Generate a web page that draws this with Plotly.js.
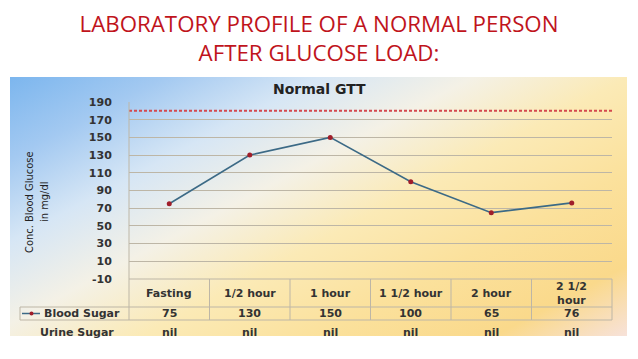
<!DOCTYPE html>
<html>
<head>
<meta charset="utf-8">
<script src="https://cdn.plot.ly/plotly-3.0.1.min.js"></script>
<style>
  html, body { margin: 0; padding: 0; background: #ffffff; }
  #wrap { position: relative; width: 638px; height: 359px; overflow: hidden; }
  #bg { position: absolute; left: 10px; top: 77px; width: 617px; height: 259px;
        background:
          linear-gradient(152deg, #7cb6ee 0%, #a3c9f1 14%, #d6e6f5 28%, #f4f1e6 42%, #fbeab6 56%, #fbe19c 72%, #fad98b 88%, #f7e2da 100%); }
  #chart { position: absolute; left: 0; top: 0; width: 638px; height: 359px; }
</style>
</head>
<body>
<div id="wrap">
  <div id="bg"></div>
  <div id="chart"></div>
</div>
<script>
// ---- data ----
const categories = ["Fasting", "1/2 hour", "1 hour", "1 1/2 hour", "2 hour", "2 1/2<br>hour"];
const bloodSugar = [75, 130, 150, 100, 65, 76];
const urineSugar = ["nil", "nil", "nil", "nil", "nil", "nil"];
const threshold = 180;
const yTicks = [-10, 10, 30, 50, 70, 90, 110, 130, 150, 170, 190];

// ---- styling helpers ----
const W = 638, H = 359;
const M = { l: 129, r: 26, t: 102, b: 80 };
const plotW = W - M.l - M.r, plotH = H - M.t - M.b;
const px2x = p => (p - M.l) / plotW;
const px2y = p => (H - M.b - p) / plotH;
const txtFont = { family: "DejaVu Sans, Verdana, sans-serif", size: 11, color: "#333333", weight: "bold" };
const gridCol = "#bdb6a6";
const lineCol = "#3c6a86";

const shapes = [];
const annotations = [];

// threshold dashed line
shapes.push({ type: "line", xref: "paper", yref: "y", x0: 0, x1: 1, y0: threshold, y1: threshold,
  line: { color: "#d4484e", width: 2, dash: "3px,2px" } });

// table grid
const rowTop = px2y(279), rowMid = px2y(307), rowBot = px2y(320);
const leftCell = px2x(20);
shapes.push({ type: "line", xref: "paper", yref: "paper", x0: 0, x1: 1, y0: rowTop, y1: rowTop, line: { color: gridCol, width: 1 } });
shapes.push({ type: "line", xref: "paper", yref: "paper", x0: leftCell, x1: 1, y0: rowMid, y1: rowMid, line: { color: gridCol, width: 1 } });
shapes.push({ type: "line", xref: "paper", yref: "paper", x0: leftCell, x1: 1, y0: rowBot, y1: rowBot, line: { color: gridCol, width: 1 } });
shapes.push({ type: "line", xref: "paper", yref: "paper", x0: leftCell, x1: leftCell, y0: rowMid, y1: rowBot, line: { color: gridCol, width: 1 } });
shapes.push({ type: "line", xref: "paper", yref: "paper", x0: 0, x1: 0, y0: 1, y1: rowBot, line: { color: gridCol, width: 1 } });
shapes.push({ type: "line", xref: "paper", yref: "paper", x0: 1, x1: 1, y0: rowTop, y1: rowBot, line: { color: gridCol, width: 1 } });
for (let i = 1; i < categories.length; i++) {
  const xp = i / categories.length;
  shapes.push({ type: "line", xref: "paper", yref: "paper", x0: xp, x1: xp, y0: rowTop, y1: rowBot, line: { color: gridCol, width: 1 } });
}

// legend symbol in table
const legY = px2y(313.5);
shapes.push({ type: "line", xref: "paper", yref: "paper", x0: px2x(22), x1: px2x(40), y0: legY, y1: legY, line: { color: lineCol, width: 1.5 } });
shapes.push({ type: "circle", xref: "paper", yref: "paper",
  x0: px2x(29.5), x1: px2x(33.5), y0: px2y(315.5), y1: px2y(311.5), fillcolor: "#a01e2a", line: { width: 0 } });

// table texts
categories.forEach((c, i) => {
  annotations.push({ xref: "x", yref: "paper", x: c, y: px2y(293), text: c, showarrow: false, font: txtFont, xanchor: "center", yanchor: "middle" });
  annotations.push({ xref: "x", yref: "paper", x: c, y: px2y(313.5), text: String(bloodSugar[i]), showarrow: false, font: txtFont, xanchor: "center", yanchor: "middle" });
  annotations.push({ xref: "x", yref: "paper", x: c, y: px2y(332), text: urineSugar[i], showarrow: false, font: txtFont, xanchor: "center", yanchor: "middle" });
});
annotations.push({ xref: "paper", yref: "paper", x: px2x(42), y: px2y(313.5), text: "Blood Sugar", showarrow: false, font: txtFont, xanchor: "left", yanchor: "middle" });
annotations.push({ xref: "paper", yref: "paper", x: px2x(77), y: px2y(332), text: "Urine Sugar", showarrow: false, font: txtFont, xanchor: "center", yanchor: "middle" });

// chart title & y title
annotations.push({ xref: "paper", yref: "paper", x: px2x(319), y: px2y(89), text: "Normal GTT", showarrow: false,
  font: { family: "DejaVu Sans, Verdana, sans-serif", size: 14, color: "#222222", weight: "bold" }, xanchor: "center", yanchor: "middle" });
const yTitleFont = { family: "DejaVu Sans Condensed, Liberation Sans Narrow, sans-serif", size: 11, color: "#222222" };
annotations.push({ xref: "paper", yref: "paper", x: px2x(29), y: px2y(203), text: "Conc. Blood Glucose", showarrow: false, textangle: -90,
  font: yTitleFont, xanchor: "center", yanchor: "middle" });
annotations.push({ xref: "paper", yref: "paper", x: px2x(44), y: px2y(202), text: "in mg/dl", showarrow: false, textangle: -90,
  font: yTitleFont, xanchor: "center", yanchor: "middle" });

const traces = [
  { type: "scatter", mode: "lines+markers", x: categories, y: bloodSugar, name: "Blood Sugar",
    line: { color: lineCol, width: 1.6 },
    marker: { color: "#a01e2a", size: 5, symbol: "circle" },
    hoverinfo: "x+y", showlegend: false }
];

const layout = {
  width: W, height: H,
  margin: M,
  paper_bgcolor: "rgba(0,0,0,0)",
  plot_bgcolor: "rgba(0,0,0,0)",
  title: { text: "LABORATORY PROFILE OF A NORMAL PERSON<br>AFTER GLUCOSE LOAD:", x: 0.5, xanchor: "center",
           y: 0.911, yanchor: "top", yref: "container",
           font: { family: "Open Sans, sans-serif", size: 22.3, color: "#c0141c" } },
  xaxis: { type: "category", range: [-0.5, categories.length - 0.5], showticklabels: false, showgrid: false,
           zeroline: false, showline: false, ticks: "", fixedrange: true },
  yaxis: { range: [-10, 190], tickvals: yTicks, ticktext: yTicks.map(String), showgrid: true, gridcolor: gridCol, gridwidth: 1,
           zeroline: false, showline: false, ticks: "outside", ticklen: 14, tickcolor: "rgba(0,0,0,0)",
           tickfont: txtFont, fixedrange: true },
  shapes: shapes,
  annotations: annotations,
  showlegend: false
};

Plotly.newPlot("chart", traces, layout, { displayModeBar: false, staticPlot: true });
</script>
</body>
</html>
